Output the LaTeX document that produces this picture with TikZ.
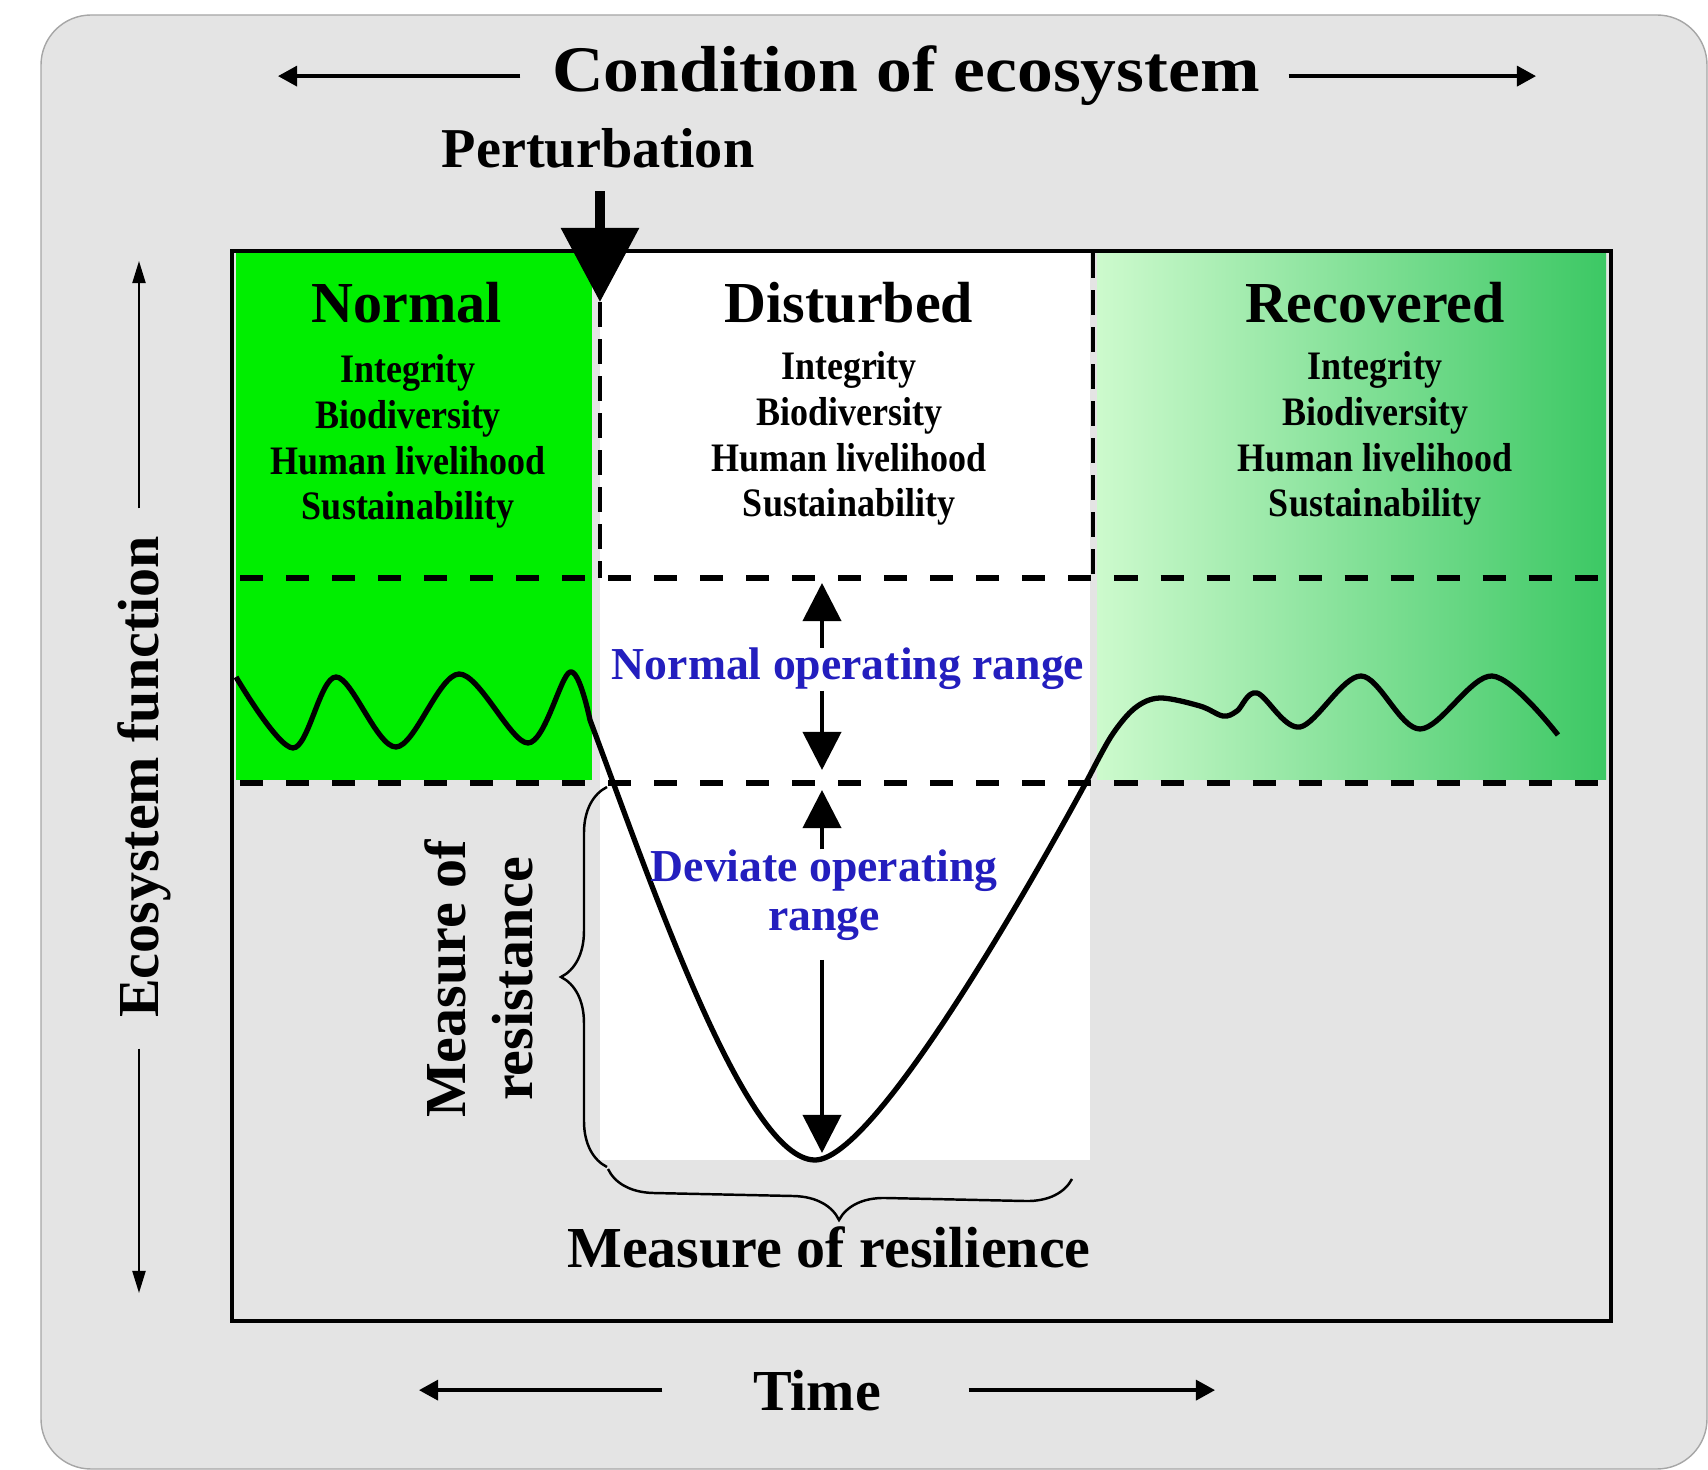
\documentclass[tikz,border=0pt]{standalone}
\usepackage{fontspec}
\setmainfont{Liberation Serif}
\newfontfamily\itemfont{Liberation Serif}[FakeStretch=0.89]
\newfontfamily\widefont{Liberation Serif}[FakeStretch=1.1]
\usepackage{tikz}
\usetikzlibrary{
  positioning,
  arrows.meta,
  calc,
  decorations.pathreplacing
}
\definecolor{panelgray}{RGB}{228,228,228}
\definecolor{normalgreen}{RGB}{0,238,0}
\definecolor{recovlight}{RGB}{205,250,205}
\definecolor{recovdark}{RGB}{60,200,100}
\definecolor{rangeblue}{RGB}{35,30,190}

\begin{document}
\begin{tikzpicture}[
  x=0.01cm, y=-0.01cm,
  every node/.style={inner sep=0pt},
  headlbl/.style={font=\fontsize{16.5}{19}\selectfont\bfseries, anchor=base},
  itemlbl/.style={font=\itemfont\fontsize{11.5}{13}\selectfont\bfseries,
                  align=center, anchor=base},
  rangelbl/.style={font=\fontsize{13}{14}\selectfont\bfseries, text=rangeblue,
                   align=center, anchor=base},
  axarr/.style={-{Triangle[length=0.19cm, width=0.2cm]}, line width=0.95pt},
  thinarr/.style={-{Triangle[length=0.22cm, width=0.13cm]}, line width=0.6pt},
  rangearr/.style={-{Triangle[length=0.38cm, width=0.38cm]}, line width=1.1pt},
  limitline/.style={line width=1.7pt, dash pattern=on 0.23cm off 0.23cm},
  divider/.style={line width=0.9pt, dash pattern=on 0.25cm off 0.12cm},
  curly/.style={decorate, decoration={brace, amplitude=0.46cm}, line width=0.7pt},
]
\useasboundingbox (0,0) rectangle (1708,1470);

\draw[fill=panelgray, draw=gray!70, rounded corners=0.5cm] (41,15) rectangle (1707,1469);
\fill[white] (600,253) rectangle (1090,1160);
\fill[normalgreen] (236,253) rectangle (592,780);
\shade[left color=recovlight, right color=recovdark] (1097,253) rectangle (1606,780);

\draw[limitline] (240,578) -- (1606,578);
\draw[limitline] (240,783) -- (1606,783);
\draw[divider] (1093,253) -- (1093,578);
\draw[line width=1.3pt] (232,251) rectangle (1611,1321);

\node[font=\widefont\fontsize{18.5}{22}\selectfont\bfseries, anchor=base] (cond) at (906,92) {Condition of ecosystem};
\coordinate (condL) at (278,0);
\coordinate (condR) at (1536,0);
\draw[axarr, shorten <=0.31cm] (cond.west) -- (cond.west -| condL);
\draw[axarr, shorten <=0.28cm] (cond.east) -- (cond.east -| condR);

\node[headlbl, font=\fontsize{16}{19}\selectfont\bfseries] (pert) at (598,168) {Perturbation};
\coordinate (pertTip) at (600,302);
\draw[-{Triangle[length=0.74cm, width=0.76cm]}, line width=2.8pt, shorten <=0.22cm] (pert.south -| pertTip) -- (pertTip);
\draw[divider] (pertTip) -- (600,578);

\node[headlbl] (normal) at (407,323) {Normal};
\node[headlbl] (disturbed) at (849,323) {Disturbed};
\node[headlbl] (recovered) at (1375,323) {Recovered};
\node[itemlbl] (normalitems) at (408,520) {Integrity\\Biodiversity\\Human livelihood\\Sustainability};
\node[itemlbl] (disturbeditems) at (849,517) {Integrity\\Biodiversity\\Human livelihood\\Sustainability};
\node[itemlbl] (recovereditems) at (1375,517) {Integrity\\Biodiversity\\Human livelihood\\Sustainability};

\draw[line width=1.5pt, line join=round]
  plot[smooth, tension=0.55] coordinates {
    (236,677) (293,748) (336,677) (396,747) (459,674) (528,743) (570,672) (590,720)}
  .. controls (650,880) and (745,1160) .. (815,1160)
  .. controls (875,1160) and (1035,877) .. (1090,775)
  -- plot[smooth, tension=0.55] coordinates {
    (1090,775) (1112,735) (1135,708) (1160,698) (1200,706) (1223,716) (1237,711)
    (1257,693) (1300,727) (1361,676) (1420,729) (1492,676) (1558,735)};

\node[rangelbl] (normrange) at (848,680) {Normal operating range};
\coordinate (nrTop) at (822,583);
\coordinate (nrBot) at (822,770);
\draw[rangearr] (normrange.north -| nrTop) -- (nrTop);
\draw[rangearr] (normrange.south -| nrBot) -- (nrBot);

\node[rangelbl] (devrange) at (824,931) {Deviate operating\\range};
\coordinate (drTop) at (822,790);
\coordinate (drBot) at (822,1153);
\draw[rangearr] (devrange.north -| drTop) -- (drTop);
\draw[rangearr, shorten <=0.18cm] (devrange.south -| drBot) -- (drBot);

\draw[curly] (607,1167) -- (607,787);
\draw[curly] (1072,1179) -- (608,1169);
\node[headlbl, rotate=90, align=center] (resist) at (532,979) {Measure of\\resistance};
\node[headlbl] (resil) at (829,1267) {Measure of resilience};

\node[headlbl] (time) at (817,1410) {Time};
\coordinate (timeL) at (419,0);
\coordinate (timeR) at (1215,0);
\draw[axarr, shorten <=0.9cm] (time.west) -- (time.west -| timeL);
\draw[axarr, shorten <=0.87cm] (time.east) -- (time.east -| timeR);

\node[headlbl, rotate=90] (eco) at (158,777) {Ecosystem function};
\coordinate (ecoTop) at (139,261);
\coordinate (ecoBot) at (139,1293);
\draw[thinarr, shorten <=0.27cm] (eco.east -| ecoTop) -- (ecoTop);
\draw[thinarr, shorten <=0.30cm] (eco.west -| ecoBot) -- (ecoBot);

\end{tikzpicture}
\end{document}
